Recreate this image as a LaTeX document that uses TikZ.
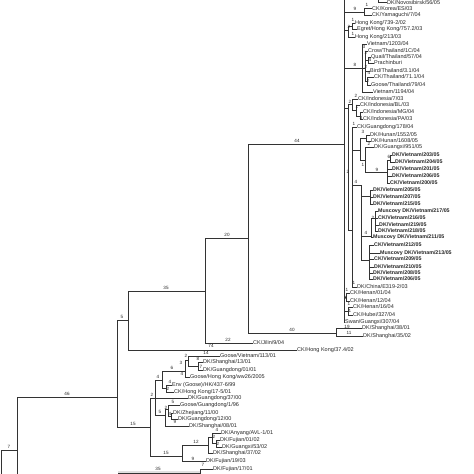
\documentclass[tikz,border=0pt]{standalone}
\usepackage{fontspec}
\setmainfont{Liberation Sans}
\newcounter{bsc}
\tikzset{
  x={(1pt,0)}, y={(0,-1pt)},
  branch/.style={draw=black!80, line width=0.9pt},
  leaf/.style={anchor=west, inner sep=0pt, text=black!85, font=\fontsize{5.5}{6}\selectfont},
  bleaf/.style={leaf, font=\fontsize{5.3}{6}\selectfont\bfseries},
  bsn/.style={anchor=south, inner sep=0pt, text=black!85, font=\fontsize{4.6}{5}\selectfont}
}
\newcommand\leafnode[4]{\node[leaf] (#1) at (#2,#3) {#4};}
\newcommand\bleafnode[4]{\node[bleaf] (#1) at (#2,#3) {#4};}
\newcommand\bsl[3]{\stepcounter{bsc}\node[bsn] (bs\thebsc) at (#1,#2) {#3};}
\newcommand\br[2]{\draw[branch] (#1) |- (#2);}
\begin{document}
\begin{tikzpicture}
\fill[white] (0,0) rectangle (474,474);
\useasboundingbox (0,0) rectangle (474,474);
% ---------- leaves ----------
\leafnode{L0}{387}{2.6}{DK/Novosibirsk/56/05}
\leafnode{L1}{372}{8.5}{CK/Korea/ES/03}
\leafnode{L2}{372}{15}{CK/Yamaguchi/7/04}
\leafnode{L3}{355}{23}{Hong Kong/739-2/02}
\leafnode{L4}{357}{29}{Egret/Hong Kong/757.2/03}
\leafnode{L5}{355}{37}{Hong Kong/213/03}
\leafnode{L6}{367}{44}{Vietnam/1203/04}
\leafnode{L7}{368}{51}{Crow/Thailand/1C/04}
\leafnode{L8}{371}{57}{Quail/Thailand/57/04}
\leafnode{L9}{374}{63}{Prachinburi}
\leafnode{L10}{370}{71}{Bird/Thailand/3.1/04}
\leafnode{L11}{374}{77}{CK/Thailand/71.1/04}
\leafnode{L12}{371}{85}{Goose/Thailand/79/04}
\leafnode{L13}{373}{92}{Vietnam/1194/04}
\leafnode{L14}{358}{99}{CK/Indonesia/7/03}
\leafnode{L15}{360}{105}{CK/Indonesia/BL/03}
\leafnode{L16}{363}{112}{CK/Indonesia/MG/04}
\leafnode{L17}{363}{119}{CK/Indonesia/PA/03}
\leafnode{L18}{357}{127}{CK/Guangdong/178/04}
\leafnode{L19}{370}{135}{DK/Hunan/1552/05}
\leafnode{L20}{371}{141}{DK/Hunan/1608/05}
\leafnode{L21}{374}{147}{DK/Guangxi/951/05}
\bleafnode{L22}{392}{155}{DK/Vietnam/203/05}
\bleafnode{L23}{395}{162}{DK/Vietnam/204/05}
\bleafnode{L24}{392}{169}{DK/Vietnam/201/05}
\bleafnode{L25}{392}{176}{DK/Vietnam/206/05}
\bleafnode{L26}{390}{183}{CK/Vietnam/200/05}
\bleafnode{L27}{373}{190}{DK/Vietnam/205/05}
\bleafnode{L28}{373}{197}{DK/Vietnam/207/05}
\bleafnode{L29}{373}{204}{DK/Vietnam/215/05}
\bleafnode{L30}{378}{211}{Muscovy DK/Vietnam/217/05}
\bleafnode{L31}{378}{218}{CK/Vietnam/216/05}
\bleafnode{L32}{379}{225}{DK/Vietnam/219/05}
\bleafnode{L33}{378}{231}{DK/Vietnam/218/05}
\bleafnode{L34}{373}{237}{Muscovy DK/Vietnam/211/05}
\bleafnode{L35}{374}{245}{CK/Vietnam/212/05}
\bleafnode{L36}{380}{253}{Muscovy DK/Vietnam/213/05}
\bleafnode{L37}{374}{259}{CK/Vietnam/209/05}
\bleafnode{L38}{374}{267}{DK/Vietnam/210/05}
\bleafnode{L39}{373}{273}{DK/Vietnam/208/05}
\bleafnode{L40}{373}{279}{DK/Vietnam/206/05}
\leafnode{L41}{357}{287}{DK/China/E319-2/03}
\leafnode{L42}{350}{293}{CK/Henan/01/04}
\leafnode{L43}{350}{301}{CK/Henan/12/04}
\leafnode{L44}{353}{307}{CK/Henan/16/04}
\leafnode{L45}{353}{315}{CK/Hubei/327/04}
\leafnode{L46}{345}{322}{Swan/Guangxi/307/04}
\leafnode{L47}{362}{328}{DK/Shanghai/38/01}
\leafnode{L48}{363}{336}{DK/Shanghai/35/02}
\leafnode{L49}{253}{343}{CK/Jilin/9/04}
\leafnode{L50}{297}{350}{CK/Hong Kong/37.4/02}
\leafnode{L51}{220}{356}{Goose/Vietnam/113/01}
\leafnode{L52}{203}{362}{DK/Shanghai/13/01}
\leafnode{L53}{203}{370}{DK/Guangdong/01/01}
\leafnode{L54}{190}{377}{Goose/Hong Kong/ww26/2005}
\leafnode{L55}{172}{385}{Env (Goose)/HK/437-6/99}
\leafnode{L56}{174}{392}{CK/Hong Kong/17-5/01}
\leafnode{L57}{188}{398}{DK/Guangdong/37/00}
\leafnode{L58}{180}{405}{Goose/Guangdong/1/96}
\leafnode{L59}{173}{413}{DK/Zhejiang/11/00}
\leafnode{L60}{178}{419}{DK/Guangdong/12/00}
\leafnode{L61}{189}{426}{DK/Shanghai/08/01}
\leafnode{L62}{221}{433}{DK/Anyang/AVL-1/01}
\leafnode{L63}{220}{440}{DK/Fujian/01/02}
\leafnode{L64}{222}{447}{DK/Guangxi/53/02}
\leafnode{L65}{213}{453}{DK/Shanghai/37/02}
\leafnode{L66}{206}{461}{DK/Fujian/19/03}
\leafnode{L67}{213}{469}{DK/Fujian/17/01}
% ---------- internal nodes ----------
\coordinate (r0) at (1,476);
\coordinate (n7) at (17,450);
\coordinate (n7b) at (17,476);
\coordinate (nA) at (117,397);
\coordinate (nB) at (128,320);
\coordinate (n205) at (205,291);
\coordinate (n248) at (248,238);
\coordinate (n44) at (344,144);
\coordinate (n44top) at (344,-5);
\coordinate (n40) at (336,333);
\coordinate (nNov) at (378,-4);
\coordinate (nKor) at (364,12);
\coordinate (nHK) at (348,30);
\coordinate (nHK2) at (352,26);
\coordinate (nTh) at (362,68);
\coordinate (nTh2) at (365,68);
\coordinate (nTh3) at (368,60);
\coordinate (nTh4) at (367,81);
\coordinate (nP) at (348,108);
\coordinate (nQ) at (352,104);
\coordinate (nR) at (356,110);
\coordinate (nS) at (360,116);
\coordinate (nN1) at (352,230);
\coordinate (nH1) at (360,150);
\coordinate (nHu) at (366,138);
\coordinate (nH2) at (365,160);
\coordinate (nV9) at (387,172);
\coordinate (nV6) at (390,160);
\coordinate (nV) at (361,185);
\coordinate (nV1) at (370,196);
\coordinate (nV2) at (371,236);
\coordinate (nV2a) at (375,218);
\coordinate (nV3) at (369,260);
\coordinate (nHe) at (346,297);
\coordinate (nHe2) at (348,311);
\coordinate (nC) at (150,427);
\coordinate (nG) at (155,398);
\coordinate (nG1) at (162,380);
\coordinate (nG2) at (165,415);
\coordinate (nG3) at (185,371);
\coordinate (nG4) at (166,388);
\coordinate (nG5) at (188,360);
\coordinate (nG6) at (198,366);
\coordinate (nG7) at (168,409);
\coordinate (nG8) at (171,416);
\coordinate (n182) at (182,456);
\coordinate (n208) at (208,445);
\coordinate (n212) at (212,437);
\coordinate (n216) at (216,443);
\coordinate (nBa) at (118,476);
\coordinate (nBb) at (200,473);
\coordinate (nBc) at (200,476);
% ---------- branches ----------
\br{r0}{n7}
\draw[branch] (n7) -- (n7b);
\br{n7}{nA}
\br{nA}{nB}
\br{nA}{nC}
\br{nB}{n205}
\br{nB}{L50.west}
\br{n205}{n248}
\br{n205}{L49.west}
\br{n248}{n44}
\br{n248}{n40}
\br{n40}{L47.west}
\br{n40}{L48.west}
\draw[branch] (n44) -- (n44top);
\br{nNov}{L0.west}
\br{n44}{nKor} \br{nKor}{L1.west} \br{nKor}{L2.west}
\br{n44}{nHK} \br{nHK}{nHK2} \br{nHK2}{L3.west} \br{nHK2}{L4.west} \br{nHK}{L5.west}
\br{n44}{nTh} \br{nTh}{L6.west} \br{nTh}{L13.west} \br{nTh}{nTh2}
\br{nTh2}{L7.west} \br{nTh2}{nTh3} \br{nTh3}{L8.west} \br{nTh3}{L9.west}
\br{nTh2}{L10.west} \br{nTh2}{nTh4} \br{nTh4}{L11.west} \br{nTh4}{L12.west}
\br{n44}{nP} \br{nP}{nQ} \br{nQ}{L14.west} \br{nQ}{nR} \br{nR}{L15.west}
\br{nR}{nS} \br{nS}{L16.west} \br{nS}{L17.west}
\br{nP}{nN1} \br{nN1}{L18.west} \br{nN1}{nH1} \br{nH1}{nHu}
\br{nHu}{L19.west} \br{nHu}{L20.west} \br{nH1}{nH2} \br{nH2}{L21.west}
\br{nH2}{nV9} \br{nV9}{nV6} \br{nV6}{L22.west} \br{nV6}{L23.west}
\br{nV9}{L24.west} \br{nV9}{L25.west} \br{nV9}{L26.west}
\br{nN1}{nV} \br{nV}{nV1} \br{nV1}{L27.west} \br{nV1}{L28.west} \br{nV1}{L29.west}
\br{nV}{nV2} \br{nV2}{nV2a} \br{nV2a}{L30.west} \br{nV2a}{L31.west}
\br{nV2a}{L32.west} \br{nV2a}{L33.west} \br{nV2}{L34.west}
\br{nV}{nV3} \br{nV3}{L35.west} \br{nV3}{L36.west} \br{nV3}{L37.west}
\br{nV3}{L38.west} \br{nV3}{L39.west} \br{nV3}{L40.west}
\br{nN1}{L41.west}
\br{n44}{nHe} \br{nHe}{L42.west} \br{nHe}{L43.west}
\br{n44}{nHe2} \br{nHe2}{L44.west} \br{nHe2}{L45.west}
\br{n44}{L46.west}
\br{nC}{nG} \br{nC}{n182}
\br{nG}{nG1} \br{nG}{L57.west} \br{nG}{nG2}
\br{nG1}{nG3} \br{nG1}{nG4}
\br{nG3}{nG5} \br{nG3}{L54.west}
\br{nG5}{L51.west} \br{nG5}{nG6} \br{nG6}{L52.west} \br{nG6}{L53.west}
\br{nG4}{L55.west} \br{nG4}{L56.west}
\br{nG2}{nG7} \br{nG2}{L61.west} \br{nG7}{L58.west} \br{nG7}{nG8}
\br{nG8}{L59.west} \br{nG8}{L60.west}
\br{n182}{n208} \br{n182}{L66.west}
\br{n208}{n212} \br{n208}{L65.west}
\br{n212}{L62.west} \br{n212}{n216} \br{n216}{L63.west} \br{n216}{L64.west}
\fill[black!12] (118,470.5) rectangle (200,474);
\br{nBa}{nBb} \br{nBb}{L67.west}
\draw[branch] (nBb) -- (nBc);
% ---------- bootstrap values ----------
\bsl{9}{449}{7}
\bsl{67}{396}{46}
\bsl{122}{319}{5}
\bsl{166}{290}{35}
\bsl{227}{237}{20}
\bsl{297}{143}{44}
\bsl{292}{332}{40}
\bsl{228}{342}{22}
\node[bsn, anchor=north] (bs74) at (211,344.5) {74};
\bsl{206}{355}{14}
\bsl{186}{358}{2}
\bsl{198}{361}{8}
\bsl{201}{369}{7}
\bsl{181}{365}{3}
\bsl{182}{376}{4}
\bsl{172}{370}{6}
\bsl{158}{379}{4}
\bsl{170}{384}{4}
\bsl{168}{391}{2}
\bsl{152}{397}{2}
\bsl{133}{426}{15}
\bsl{160}{414}{5}
\bsl{173}{404}{5}
\bsl{166}{410}{2}
\bsl{170}{416}{4}
\bsl{175}{424}{9}
\bsl{166}{455}{15}
\bsl{196}{444}{12}
\bsl{193}{461}{9}
\bsl{217}{432}{4}
\bsl{214}{439}{2}
\bsl{218}{446}{2}
\bsl{158}{471}{35}
\bsl{203}{467}{7}
\bsl{355}{11}{9}
\bsl{367}{6.5}{1}
\bsl{349}{29}{2}
\bsl{353}{22}{1}
\bsl{353}{36}{1}
\bsl{355}{67}{8}
\bsl{364}{49}{3}
\bsl{366}{55}{2}
\bsl{370}{62}{4}
\bsl{366}{69}{2}
\bsl{369}{75}{4}
\bsl{368}{83}{2}
\bsl{356}{98}{2}
\bsl{350}{104}{2}
\bsl{357}{109}{1}
\bsl{361}{120}{3}
\bsl{354}{126}{1}
\bsl{363}{134}{3}
\bsl{369}{146}{2}
\bsl{363}{167}{1}
\bsl{377}{172}{9}
\bsl{389}{159}{6}
\bsl{348}{174}{2}
\bsl{356}{184}{4}
\bsl{373}{220}{2}
\bsl{366}{235}{4}
\bsl{354}{285}{1}
\bsl{347}{292}{1}
\bsl{346}{300}{1}
\bsl{349}{306}{1}
\bsl{350}{313}{1}
\bsl{347}{329}{19}
\bsl{349}{335}{11}
\end{tikzpicture}
\end{document}
